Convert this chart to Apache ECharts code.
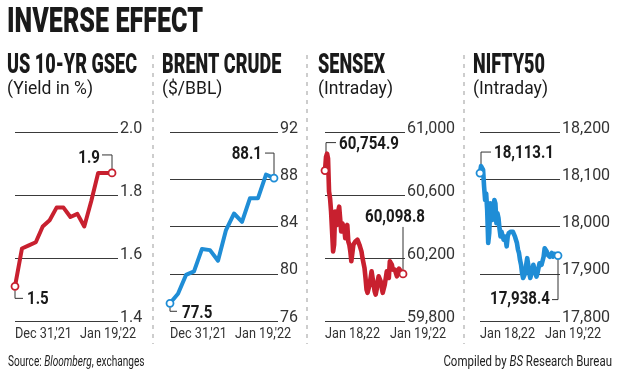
<!DOCTYPE html>
<html><head><meta charset="utf-8">
<script src="https://cdn.jsdelivr.net/npm/echarts@6/dist/echarts.min.js"></script>
<style>html,body{margin:0;padding:0;background:#fff}#c{width:620px;height:379px}</style>
</head><body><div id="c"></div>
<script>
// ---- data ----
const chartTitle = "INVERSE EFFECT";
const panelTitles = ["US 10-YR GSEC", "BRENT CRUDE", "SENSEX", "NIFTY50"];
const panelSubtitles = ["(Yield in %)", "($/BBL)", "(Intraday)", "(Intraday)"];
const gsecDates = ["Dec 31,'21", "Jan 19,'22"];
const brentDates = ["Dec 31,'21", "Jan 19,'22"];
const sensexDates = ["Jan 18,22", "Jan 19,'22"];
const niftyDates = ["Jan 18,22", "Jan 19,'22"];
const gsecTicks = [1.4, 1.6, 1.8, 2.0];
const brentTicks = [76, 80, 84, 88, 92];
const sensexTicks = [59800, 60200, 60600, 61000];
const niftyTicks = [17800, 17900, 18000, 18100, 18200];
const gsecValues = [1.51, 1.63, 1.64, 1.65, 1.70, 1.72, 1.76, 1.76, 1.73, 1.74, 1.70, 1.78, 1.87, 1.87, 1.87];
const brentValues = [77.5, 78.3, 79.9, 80.2, 82.1, 82.0, 81.1, 83.7, 85.1, 84.4, 86.4, 86.4, 88.4, 88.1];
const sensexValues = [60754.9, 60842, 60863, 60832, 60621, 60579, 60495, 60368, 60242, 60284, 60495, 60453, 60410, 60495, 60526, 60516, 60368, 60421, 60431, 60389, 60326, 60347, 60410, 60305, 60284, 60242, 60179, 60168, 60284, 60295, 60305, 60305, 60316, 60305, 60284, 60263, 60242, 60200, 60189, 60137, 60073, 60000, 59979, 59989, 60031, 60073, 60115, 60073, 60031, 59989, 59968, 60000, 60052, 60084, 60094, 60052, 60010, 59979, 59989, 60031, 60073, 60115, 60105, 60073, 60179, 60189, 60158, 60126, 60115, 60126, 60105, 60084, 60115, 60132, 60120, 60115, 60105, 60098.8];
const niftyValues = [18113.1, 18128, 18130, 18120, 18084, 18056, 18070, 18035, 17965, 17986, 18049, 18028, 18014, 18042, 18056, 18049, 18007, 18028, 18018, 17996, 17979, 17989, 17986, 17972, 17979, 17972, 17958, 17979, 17986, 17989, 17989, 17993, 17989, 17986, 17979, 17972, 17965, 17951, 17944, 17929, 17919, 17901, 17891, 17894, 17901, 17919, 17933, 17919, 17901, 17891, 17894, 17908, 17919, 17915, 17901, 17894, 17901, 17912, 17922, 17926, 17919, 17922, 17936, 17954, 17954, 17947, 17940, 17944, 17936, 17940, 17944, 17936, 17940, 17942, 17940, 17938, 17938.4];
const footerLeft = ["Source: ", "Bloomberg", ", exchanges"];
const footerRight = ["Compiled by ", "BS", " Research Bureau"];

// ---- style / layout ----
const RED = '#c8202f', BLUE = '#1f8dd6';
const FN = 'Roboto, "Liberation Sans", sans-serif';
const mctx = document.createElement('canvas').getContext('2d');
const measure = (t, f) => { mctx.font = f; return mctx.measureText(t).width; };
const fit = (t, f, target) => target / measure(t, f);

const fmtComma = v => v.toLocaleString('en-US');
const fmt1 = v => v.toLocaleString('en-US', {minimumFractionDigits: 1, maximumFractionDigits: 1});
const panels = [
  {left: 15, width: 103, frac: 97/103, vals: gsecValues, ticks: gsecTicks, dates: gsecDates, color: RED, lw: 4, fmt: v => v.toFixed(1), tx: 7},
  {left: 170, width: 108, frac: 104/108, vals: brentValues, ticks: brentTicks, dates: brentDates, color: BLUE, lw: 4, fmt: v => String(v), tx: 162},
  {left: 325, width: 80, frac: 78/80, vals: sensexValues, ticks: sensexTicks, dates: sensexDates, color: RED, lw: 4.6, fmt: fmtComma, tx: 318},
  {left: 480, width: 80, frac: 78/80, vals: niftyValues, ticks: niftyTicks, dates: niftyDates, color: BLUE, lw: 4.6, fmt: fmtComma, tx: 473}
];
const TOP = 132, H = 189;

const option = {
  animation: false,
  backgroundColor: '#fff',
  grid: panels.map(p => ({left: p.left, width: p.width, top: TOP, height: H})),
  xAxis: panels.map((p, i) => ({type: 'value', gridIndex: i, show: false, min: 0, max: (p.vals.length - 1) / p.frac})),
  yAxis: panels.map((p, i) => ({
    type: 'value', gridIndex: i, position: 'right',
    min: p.ticks[0], max: p.ticks[p.ticks.length - 1], interval: p.ticks[1] - p.ticks[0],
    axisLine: {show: false}, axisTick: {show: false},
    splitLine: {show: true, lineStyle: {color: '#3a3a3a', width: 1}},
    axisLabel: {margin: 2, formatter: p.fmt, fontFamily: FN, fontSize: 16, color: '#333', verticalAlign: 'bottom', lineHeight: 7}
  })),
  series: panels.map((p, i) => ({
    type: 'line', xAxisIndex: i, yAxisIndex: i,
    data: p.vals.map((v, k) => [k, v]),
    showAllSymbol: true, symbol: 'circle',
    symbolSize: (val, params) => (params.dataIndex === 0 || params.dataIndex === p.vals.length - 1) ? 7 : 0,
    itemStyle: {color: '#fff', borderColor: p.color, borderWidth: 1.8},
    lineStyle: {color: p.color, width: p.lw, join: 'round', cap: 'round'},
    emphasis: {disabled: true}
  }))
};

const chart = echarts.init(document.getElementById('c'), null, {renderer: 'canvas'});
chart.setOption(option);

const g = [];
const txt = (text, x, y, font, align, sx, fill) => ({type: 'text', silent: true, scaleX: sx || 1, x: x, y: y,
  style: {text, x: 0, y: 0, font, fill: fill || '#1a1a1a', textAlign: align, textVerticalAlign: 'middle'}});
const poly = pts => ({type: 'polyline', silent: true, shape: {points: pts}, style: {stroke: '#333', lineWidth: 1, fill: null}});

const TF = '900 35px ' + FN, HF = '900 28px ' + FN, SF = '19px ' + FN, XF = '14px ' + FN, BF = 'bold 18px ' + FN, FF = '14px ' + FN;
g.push(txt(chartTitle, 7, 23, TF, 'left', fit(chartTitle, TF, 196)));
const hs = fit(panelTitles[0], HF, 130);
const ss = fit(panelSubtitles[0], SF, 86);
const xs = fit(gsecDates[0], XF, 57);
const bs = fit('60,754.9', BF, 60);
panels.forEach((p, i) => {
  g.push(txt(panelTitles[i], p.tx, 65.5, HF, 'left', hs));
  g.push(txt(panelSubtitles[i], p.tx, 89, SF, 'left', ss));
  g.push(txt(p.dates[0], p.left, 334, XF, 'left', xs, '#333'));
  g.push(txt(p.dates[1], p.left + 65, 334, XF, 'left', xs, '#333'));
});
[153, 307, 464].forEach(x => g.push({type: 'line', silent: true, shape: {x1: x, y1: 55, x2: x, y2: 344}, style: {stroke: '#bdbdbd', lineWidth: 1.5, lineDash: [4, 5]}}));

// annotations
panels.forEach((p, i) => {
  const n = p.vals.length;
  const a = chart.convertToPixel({seriesIndex: i}, [0, p.vals[0]]);
  const b = chart.convertToPixel({seriesIndex: i}, [n - 1, p.vals[n - 1]]);
  const s0 = fmt1(p.vals[0]), s1 = fmt1(p.vals[n - 1]);
  if (i === 0) {
    g.push(txt(s0, a[0] + 12, a[1] + 13, BF, 'left', bs));
    g.push(poly([[a[0], a[1] + 4], [a[0], a[1] + 12], [a[0] + 8, a[1] + 12]]));
    g.push(txt(s1, b[0] - 12, b[1] - 14, BF, 'right', bs));
    g.push(poly([[b[0] - 10, b[1] - 18], [b[0], b[1] - 18], [b[0], b[1] - 4]]));
  } else if (i === 1) {
    g.push(txt(s0, a[0] + 12, a[1] + 10, BF, 'left', bs));
    g.push(poly([[a[0], a[1] + 4], [a[0], a[1] + 8], [a[0] + 7, a[1] + 8]]));
    g.push(txt(s1, b[0] - 12, b[1] - 24, BF, 'right', bs));
    g.push(poly([[b[0] - 9, b[1] - 25], [b[0], b[1] - 25], [b[0], b[1] - 4]]));
  } else if (i === 2) {
    g.push(txt(s0, a[0] + 14, a[1] - 26, BF, 'left', bs));
    g.push(poly([[a[0] + 11, a[1] - 28], [a[0] + 1, a[1] - 28], [a[0] + 1, a[1] - 4]]));
    g.push(txt(s1, b[0] + 22, b[1] - 56, BF, 'right', bs));
    g.push(poly([[b[0], b[1] - 47], [b[0], b[1] - 4]]));
  } else {
    g.push(txt(s0, a[0] + 14, a[1] - 20, BF, 'left', bs));
    g.push(poly([[a[0] + 11, a[1] - 21], [a[0] + 1, a[1] - 21], [a[0] + 1, a[1] - 4]]));
    g.push(txt(s1, b[0] - 8, b[1] + 44, BF, 'right', bs));
    g.push(poly([[b[0] - 6, b[1] + 44], [b[0], b[1] + 44], [b[0], b[1] + 4]]));
  }
});

// footer
const fl = footerLeft.join(''), fr = footerRight.join('');
const fsl = fit(fl, FF, 138), fsr = fit(fr, FF, 169);
const rich = {a: {font: FF, fill: '#222'}, i: {font: 'italic ' + FF, fill: '#222'}};
g.push({type: 'text', silent: true, x: 8, y: 362, scaleX: fsl, style: {x: 0, y: 0, textVerticalAlign: 'middle', textAlign: 'left',
  text: '{a|' + footerLeft[0] + '}{i|' + footerLeft[1] + '}{a|' + footerLeft[2] + '}', rich}});
g.push({type: 'text', silent: true, x: 612, y: 362, scaleX: fsr, style: {x: 0, y: 0, textVerticalAlign: 'middle', textAlign: 'right',
  text: '{a|' + footerRight[0] + '}{i|' + footerRight[1] + '}{a|' + footerRight[2] + '}', rich}});

chart.setOption({graphic: g});
</script></body></html>
